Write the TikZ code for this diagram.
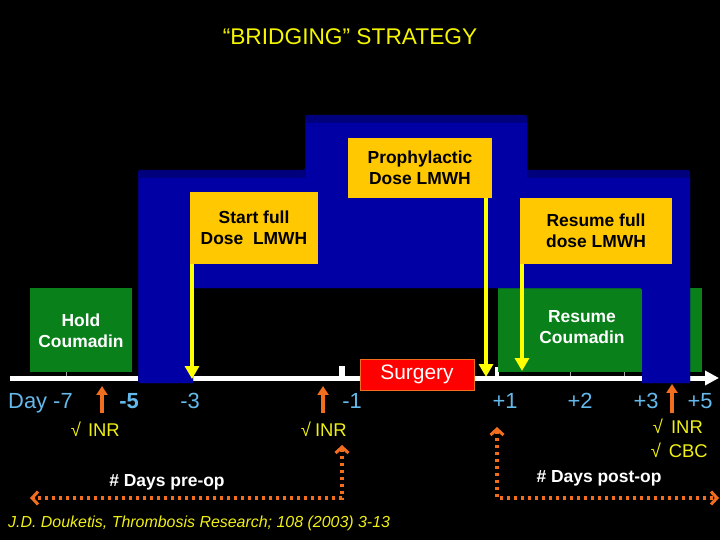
\documentclass[tikz,border=0pt]{standalone}
\usepackage{fontspec}
\setmainfont{Liberation Sans}
\usetikzlibrary{arrows.meta}
\definecolor{bluefront}{RGB}{0,0,165}
\definecolor{bluetop}{RGB}{0,0,125}
\definecolor{gbox}{RGB}{10,128,26}
\definecolor{ybox}{RGB}{255,200,0}
\definecolor{yarrow}{RGB}{255,255,0}
\definecolor{daycol}{RGB}{100,185,235}
\definecolor{orng}{RGB}{240,110,30}
\definecolor{ytext}{RGB}{240,240,20}
\definecolor{titlecol}{RGB}{245,245,0}
\tikzset{
  boxfont/.style={font=\bfseries\fontsize{17.5}{21.5}\selectfont},
  greenbox/.style={fill=gbox, draw=none, inner sep=0pt},
  yellowbox/.style={fill=ybox, draw=none, text=black, boxfont, align=center, inner sep=0pt},
  whitetext/.style={text=white, boxfont, align=center},
  yarr/.style={draw=yarrow, line width=4bp, -{Triangle[length=13pt,width=14pt]}},
  daylbl/.style={text=daycol, font=\fontsize{22}{26}\selectfont, anchor=base, inner sep=0pt},
  chk/.style={text=ytext, font=\fontsize{18.5}{22}\selectfont, anchor=base east, inner sep=0pt},
  orarr/.style={draw=orng, line width=3.5bp, -{Triangle[length=9pt,width=11pt]}},
  dotarr/.style={draw=orng, line width=3.5bp, dash pattern=on 3bp off 4bp,
     {Straight Barb[length=6pt,width=13pt,line width=3bp]}-{Straight Barb[length=6pt,width=13pt,line width=3bp]}},
  surg/.style={fill=red, draw=orng, line width=0.8bp, text=white, font=\fontsize{21}{25}\selectfont, inner sep=0pt},
}
\begin{document}
\begin{tikzpicture}[x=1bp,y=-1bp]
\useasboundingbox (0,0) rectangle (720,540);
\fill[black] (0,0) rectangle (720,540);

% title
\node[text=titlecol, font=\fontsize{22.8}{27}\selectfont, anchor=base, inner sep=0pt] (title) at (350,45) {“BRIDGING” STRATEGY};

% axis
\coordinate (axL) at (10,378);
\coordinate (axR) at (719,378);
\draw[white, line width=5bp, -{Triangle[length=14pt,width=14pt]}] (axL) -- (axR);
\fill[white] (339,366) rectangle (345,378);
\fill[white] (495,367) rectangle (499,378);

% green boxes
\node[greenbox, minimum width=102bp, minimum height=84bp] (hold) at (81,330) {};
\node[whitetext] (holdtxt) at (81,331) {Hold\\Coumadin};
\node[greenbox, minimum width=204bp, minimum height=84bp] (resc) at (600,330) {};
\draw[gray!70, line width=1bp] (66,372) -- (66,376);
\draw[gray!70, line width=1bp] (570,372) -- (570,376);
\draw[gray!70, line width=1bp] (624,372) -- (624,376);

% blue 3D shape
\fill[bluetop, rounded corners=2bp] (138,383) -- (138,170) -- (305,170) -- (305,115) -- (527,115) -- (527,170) -- (690,170) -- (690,383) -- (642,383) -- (642,288) -- (193,288) -- (193,383) -- cycle;
\fill[bluefront] (139,383) -- (139,178) -- (306,178) -- (306,123) -- (527,123) -- (527,178) -- (690,178) -- (690,383) -- (642,383) -- (642,288) -- (193,288) -- (193,383) -- cycle;

\node[whitetext] (resctxt) at (582,327) {Resume\\Coumadin};

% yellow boxes
\node[yellowbox, minimum width=128bp, minimum height=72bp] (start) at (254,228) {Start full\\Dose\ \ LMWH};
\node[yellowbox, minimum width=144bp, minimum height=60bp] (proph) at (420,168) {Prophylactic\\Dose LMWH};
\node[yellowbox, minimum width=152bp, minimum height=66bp] (resume) at (596,231) {Resume full\\dose LMWH};

% yellow arrows
\coordinate (startTip) at (192,379);
\coordinate (prophTip) at (486,377);
\coordinate (resumeTip) at (522,371);
\draw[yarr] (start.south west -| startTip) -- (startTip);
\draw[yarr] (proph.south east -| prophTip) -- (prophTip);
\draw[yarr] (resume.south west -| resumeTip) -- (resumeTip);

% surgery
\node[surg, minimum width=114bp, minimum height=31bp] (surgery) at (417,374.5) {Surgery};

% day labels
\node[daylbl, anchor=base west] (d7) at (8,408) {Day -7};
\node[daylbl, font=\bfseries\fontsize{22}{26}\selectfont] (d5) at (129,408) {-5};
\node[daylbl] (d3) at (190,408) {-3};
\node[daylbl] (d1) at (352,408) {-1};
\node[daylbl] (p1) at (505,408) {+1};
\node[daylbl] (p2) at (580,408) {+2};
\node[daylbl] (p3) at (646,408) {+3};
\node[daylbl] (p5) at (700,408) {+5};

% orange up arrows
\coordinate (oa1b) at (102,413); \coordinate (oa1t) at (102,386);
\coordinate (oa2b) at (323,413); \coordinate (oa2t) at (323,386);
\coordinate (oa3b) at (672,413); \coordinate (oa3t) at (672,384);
\draw[orarr] (oa1b) -- (oa1t);
\draw[orarr] (oa2b) -- (oa2t);
\draw[orarr] (oa3b) -- (oa3t);

% check labels
\node[chk] (inrA) at (120,436) {√\hspace{7bp}INR};
\node[chk] (inrB) at (347,436) {√\hspace{4bp}INR};
\node[chk] (inrC) at (703,433) {√\hspace{8bp}INR};
\node[chk] (cbc) at (708,457) {√\hspace{8bp}CBC};

% dotted connectors
\coordinate (preTip) at (342,445);
\coordinate (preCorner) at (342,498);
\coordinate (preEnd) at (30,498);
\draw[dotarr] (preTip) -- (preCorner) -- (preEnd);
\coordinate (postTip) at (497,427);
\coordinate (postCorner) at (497,498);
\coordinate (postEnd) at (719,498);
\draw[dotarr] (postTip) -- (postCorner) -- (postEnd);

\node[text=white, boxfont, inner sep=0pt] (preop) at (167,482) {\# Days pre-op};
\node[text=white, boxfont, inner sep=0pt] (postop) at (599,478) {\# Days post-op};

% citation
\node[text=ytext, font=\itshape\fontsize{16}{19}\selectfont, anchor=base west, inner sep=0pt] (cite) at (8,527) {J.D. Douketis, Thrombosis Research; 108 (2003) 3-13};
\end{tikzpicture}
\end{document}
